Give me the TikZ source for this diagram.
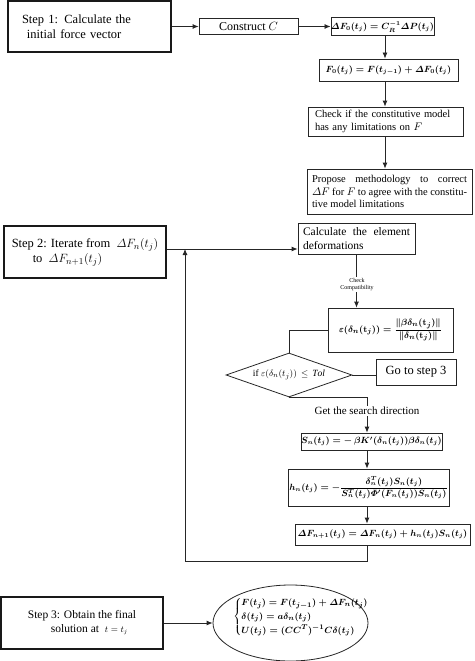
\documentclass[tikz,border=0pt]{standalone}
\usepackage{amsmath}
\usepackage{fontspec}
\setmainfont{Liberation Serif}
\usetikzlibrary{arrows.meta,shapes.geometric,calc}
\begin{document}
\begin{tikzpicture}[x=1pt,y=-1pt,
  box/.style={draw=black!85,line width=0.8pt,inner sep=0pt,font=\fontsize{11}{13}\selectfont},
  stepbox/.style={draw=black!90,line width=1.5pt,inner sep=0pt,font=\fontsize{12.5}{15}\selectfont},
  mbox/.style={box,font=\fontsize{9}{11}\selectfont\boldmath},
  conn/.style={draw=black!85,line width=0.8pt},
  arr/.style={conn,-{Latex[length=6pt,width=5pt]}}]
\useasboundingbox (0,0) rectangle (474,661);

% Step 1 row
\node[stepbox,minimum width=163pt,minimum height=51pt,text width=135pt,inner xsep=14pt,align=left] (s1) at (89.5,26.5)
  {Step 1: Calculate the\\\hspace*{5pt}initial force vector};
\node[box,font=\fontsize{12}{14}\selectfont,minimum width=99pt,minimum height=16pt] (cc) at (248.5,26.5) {Construct $C$};
\node[mbox,minimum width=103pt,minimum height=18pt] (dF0) at (382.5,26.5) {$\varDelta F_0(t_j) = C_R^{-1}\varDelta P(t_j)$};
\node[mbox,minimum width=139pt,minimum height=22pt] (F0) at (388.5,70) {$F_0(t_j) = F(t_{j-1}) + \varDelta F_0(t_j)$};
\node[box,font=\fontsize{10.5}{12.5}\selectfont,minimum width=155pt,minimum height=29pt,text width=141pt,inner xsep=7pt,align=left] (chk) at (385.5,121.5)
  {Check if the constitutive model\\has any limitations on $F$};
\node[box,font=\fontsize{10.5}{12.5}\selectfont,minimum width=165pt,minimum height=45pt,text width=155pt,inner xsep=5pt,align=justify] (prop) at (389.5,191.5)
  {Propose methodology to correct\linebreak $\varDelta F$ for $F$ to agree with the constitu-\linebreak tive model limitations};
\coordinate (xa) at (385,0);
\draw[arr] (s1.east) -- (cc.west);
\draw[arr] (cc.east) -- (dF0.west);
\draw[arr] (dF0.south -| xa) -- (F0.north -| xa);
\draw[arr] (F0.south -| xa) -- (chk.north -| xa);
\draw[arr] (chk.south -| xa) -- (prop.north -| xa);

% Step 2 loop
\node[stepbox,minimum width=162pt,minimum height=52pt,align=left] (s2) at (85,252)
  {Step 2: Iterate from \ $\varDelta F_n(t_j)$\\\hspace*{21pt}to \ $\varDelta F_{n+1}(t_j)$};
\node[box,font=\fontsize{11.5}{13.5}\selectfont,minimum width=117pt,minimum height=31pt,text width=107pt,inner xsep=5pt,align=justify] (calc) at (356.5,238.5)
  {Calculate the element deformations};
\node[mbox,font=\fontsize{9.5}{11}\selectfont\boldmath,minimum width=125pt,minimum height=44pt] (eps) at (390.5,330)
  {$\varepsilon(\delta_n(\mathbf{t}_j)) = \dfrac{\|\beta\delta_n(\mathbf{t}_j)\|}{\|\delta_n(\mathbf{t}_j)\|}$};
\node[shape=diamond,draw=black!85,line width=0.8pt,aspect=2.86,minimum width=126pt,minimum height=44pt,inner sep=0pt,font=\fontsize{9.5}{11}\selectfont] (dia) at (289,375)
  {if $\varepsilon(\delta_n(t_j)) \,\le\, \mathit{Tol}$};
\node[box,font=\fontsize{12.5}{15}\selectfont,minimum width=80pt,minimum height=26pt] (go) at (416,372) {Go to step 3};
\node[font=\fontsize{11}{13}\selectfont,inner sep=1pt] (sd) at (367,411) {Get the search direction};
\node[mbox,minimum width=141pt,minimum height=17pt] (S) at (371.5,441.5)
  {$S_n(t_j) = -\,\beta K'(\delta_n(t_j))\beta\delta_n(t_j)$};
\node[mbox,minimum width=161pt,minimum height=37pt] (h) at (368.5,487.5)
  {$h_n(t_j) = -\dfrac{\delta_n^T(t_j)S_n(t_j)}{S_n^T(t_j)\varPhi'(F_n(t_j))S_n(t_j)}$};
\node[mbox,minimum width=175pt,minimum height=21pt] (dFn1) at (382.5,534.5)
  {$\varDelta F_{n+1}(t_j) = \varDelta F_n(t_j) + h_n(t_j)S_n(t_j)$};
\coordinate (j) at (185,249);
\coordinate (fb) at (185,561);
\draw[arr] (s2.east |- j) -- (calc.west |- j);
\draw[arr] (calc.south) -- (calc.south |- eps.north);
\node[font=\fontsize{6}{7}\selectfont,fill=white,inner sep=1pt,align=center] (cc2) at (357,284.5) {Check\\Compatibility};
\draw[conn] (eps.west) -| (dia.north);
\draw[conn] (dia.east) -- (dia.east -| go.west);
\draw[conn] (dia.south) -| (sd.north);
\draw[arr] (sd.south) -- (sd.south |- S.north);
\draw[arr] (sd.south |- S.south) -- (sd.south |- h.north);
\draw[arr] (sd.south |- h.south) -- (sd.south |- dFn1.north);
\draw[arr] (sd.south |- dFn1.south) |- (fb) -- (j);

% Step 3
\node[stepbox,font=\fontsize{11.5}{14}\selectfont,minimum width=162pt,minimum height=52pt,align=left] (s3) at (82,623)
  {Step 3: Obtain the final\\\hspace*{23pt}solution at \ {\fontsize{9}{11}\selectfont$t = t_j$}};
\node[draw=black!85,line width=0.8pt,ellipse,minimum width=155pt,minimum height=76pt,inner sep=0pt] (ell) at (290.5,623) {};
\node[font=\fontsize{9.5}{11.5}\selectfont\boldmath,inner sep=0pt] (ellc) at (301,617)
  {$\left\{\begin{array}{@{}l@{}}
   F(t_j) = F(t_{j-1}) + \varDelta F_n(t_j)\\[2pt]
   \delta(t_j) = a\delta_n(t_j)\\[2pt]
   U(t_j) = (CC^T)^{-1}C\delta(t_j)
   \end{array}\right.$};
\draw[arr] (s3.east) -- (ell.west);
\end{tikzpicture}
\end{document}
